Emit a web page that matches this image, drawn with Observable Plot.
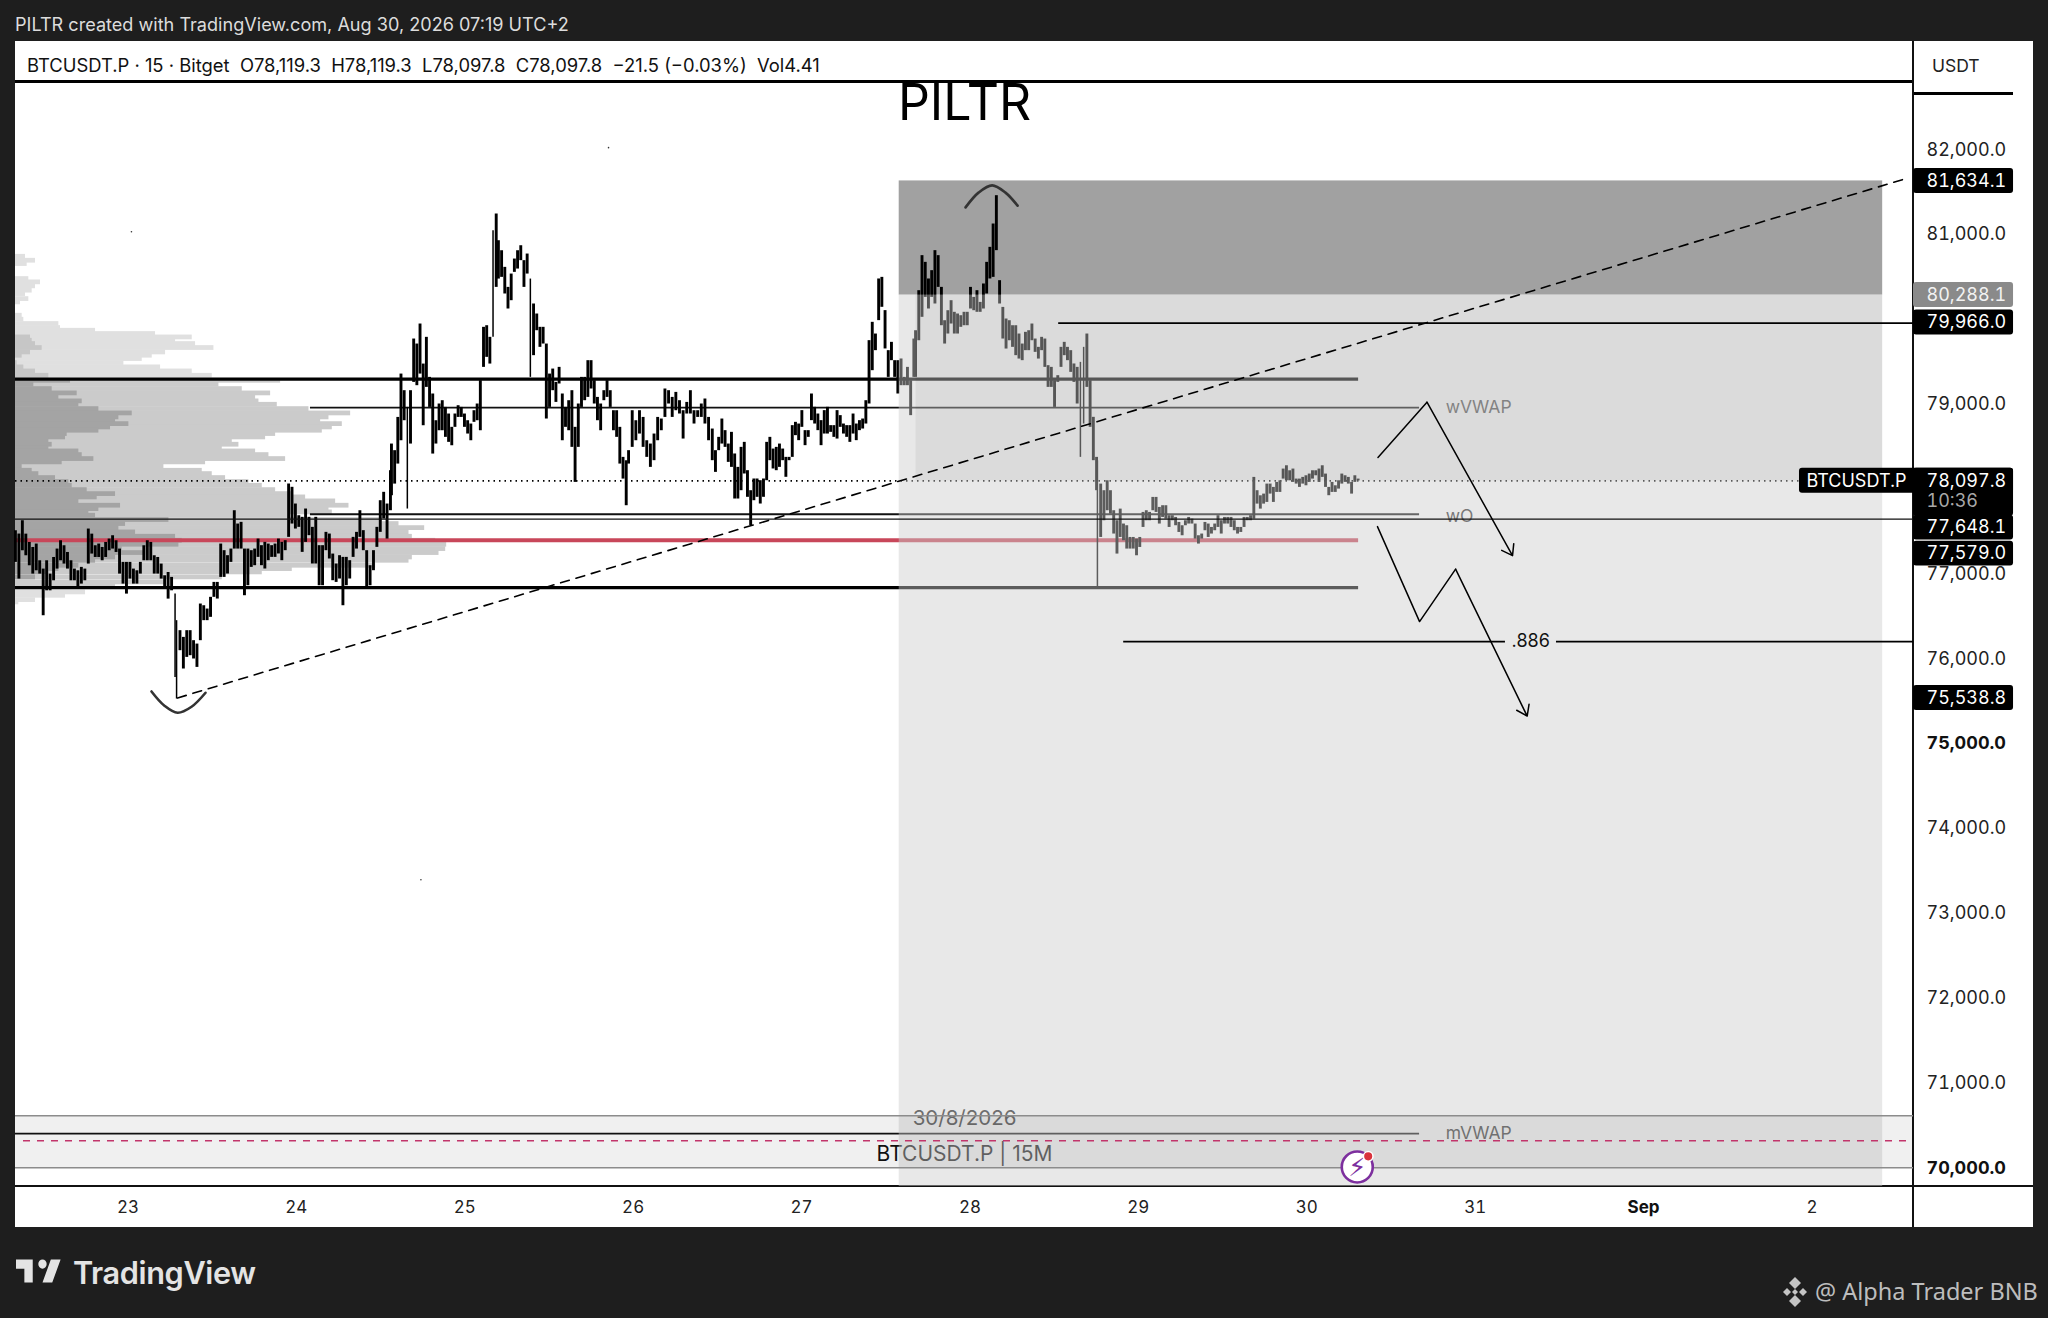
<!DOCTYPE html>
<html><head><meta charset="utf-8">
<script src="https://cdn.jsdelivr.net/npm/d3@7"></script>
<script src="https://cdn.jsdelivr.net/npm/@observablehq/plot@0.6"></script>
<style>
html,body{margin:0;padding:0;background:#1e1e1e;width:2048px;height:1318px;overflow:hidden;font-family:Inter,Roboto,sans-serif}
.abs{position:absolute;white-space:pre}
#chart{position:absolute;left:0;top:0}
#chart svg{display:block;overflow:visible;max-width:none}
</style></head><body>
<div class="abs" style="left:15px;top:41px;width:2018px;height:1186px;background:#fff"></div>
<div class="abs" style="left:15px;top:80px;width:1898px;height:3px;background:#000"></div>
<div class="abs" style="left:1913px;top:92px;width:100px;height:2.5px;background:#000"></div>
<div class="abs" style="left:15px;top:1185px;width:2018px;height:2px;background:#111"></div>
<div class="abs" style="left:1912px;top:41px;width:1.5px;height:1186px;background:#111"></div>
<div class="abs" style="left:15px;top:13px;color:#dcdcdc;font-size:18.1px;line-height:22px">PILTR created with TradingView.com, Aug 30, 2026 07:19 UTC+2</div>
<div class="abs" style="left:27px;top:54px;color:#111;font-size:18.4px;line-height:22px">BTCUSDT.P · 15 · Bitget  O78,119.3  H78,119.3  L78,097.8  C78,097.8  −21.5 (−0.03%)  Vol4.41</div>
<div class="abs" style="left:1932px;top:55px;color:#222;font-size:17.5px;line-height:22px">USDT</div>
<svg class="abs" style="left:16px;top:1258px" width="46" height="26" viewBox="2 5 33 17" preserveAspectRatio="none"><path fill="#e4e4e4" d="M14 6H2v6h6v9h6V6Zm14 15h-7l6-15h7l-6 15Zm-7-9a3 3 0 1 0 0-6 3 3 0 0 0 0 6Z"/></svg>
<div class="abs" style="left:73px;top:1255px;color:#e4e4e4;font-size:30.7px;font-weight:600;line-height:36px;letter-spacing:-.4px">TradingView</div>
<svg class="abs" style="left:1781px;top:1277px" width="28" height="30" viewBox="0 0 28 30"><g fill="#c4c4c4"><path d="M14 0l6 6-6 6-6-6z"/><path d="M14 18l6 6-6 6-6-6z"/><path d="M14 12l3 3-3 3-3-3z"/><path d="M6 11l4 4-4 4-4-4z"/><path d="M22 11l4 4-4 4-4-4z"/></g></svg>
<div class="abs" style="left:1815px;top:1276px;color:#bdbdbd;font-size:23.5px;line-height:30px;font-family:'Noto Sans',sans-serif">@ Alpha Trader BNB</div>
<div id="chart"></div>
<script>
// Candle highs and lows (USDT), grouped by stretch of the chart
const highsA=[77510,77471,77628,77470,77372,77313,77353,77156,77058,77156,76999,77195,77294,77392,77333,77254,77156,77058,77038,77078,77058,77530,77470,77333,77353,77313,77372,77412,77451,77392,77294,77137,77137,77137,77058,77038,77137,77333,77392,77372,77215,77195,77117,76979,77018,76960,76764];
const lowsA=[77137,76940,77274,77215,77097,76999,77038,76999,76508,76802,76802,76920,77058,77156,77117,77058,76920,76920,76842,76881,76920,77117,77235,77195,77195,77156,77195,77274,77294,77254,76999,76881,76763,76940,76881,76881,76999,77156,77156,77156,76999,76999,76940,76842,76704,76802,75781];
const highsB=[76450,76332,76253,76332,76332,76214,76174,76646,76626,76587,76725,76901,76901,77353,77275,77216,77294,77746,77589,77609,77294,77294,77275,77294,77412,77334,77373,77353,77334,77353,77412,77373,77393,78061,78022,77825,77687,77668,77766,77668,77550,77668,77334,77334,77491,77471,77235,77118,77216,77196,77196,77157,77432,77491,77746,77511,77275,77098,77275,77550,77864,77963,77825,78218];
const lowsB=[75526,76096,75880,76017,76037,75998,75899,76214,76450,76450,76489,76725,76705,76960,76960,77000,77137,77294,77294,77294,76744,76862,77078,77098,77196,77098,77059,77157,77196,77196,77236,77157,77275,77432,77589,77530,77550,77255,77373,77452,77118,77118,76862,76862,77275,77177,76921,76901,76941,76626,76862,76941,77196,77294,77432,77275,76823,76862,77039,77314,77491,77648,77412,77746];
const highsC=[78532,78454,78846,79357,79161,78964,79161,79770,79711,79947,79475,79790,79318,79122,78807,79004,79043,78964,78886,78729,78886,78984,78964,78886,78807,78768,78925,79004,79279,79908,79927,79790,81047,81244];
const lowsC=[77923,78060,78296,78571,78807,77766,78532,79259,79220,79357,78748,79200,78964,78414,78532,78689,78689,78611,78552,78512,78729,78846,78846,78729,78650,78571,78788,78807,78689,79436,79554,79475,79790,80379];
const highsG=[80929,80811,80615,80379,80536,80713,80811,80870,80694,80772,80477,80183,80065,79908,79908,79711,79357,79416,79259,79436,79122,78964,79043,79161,78729,79004,79318,79318,79515,79515,79279,79082,79004,79161,79279,79161,78925,78925,78729,78375,78335];
const lowsG=[80477,80497,80301,80124,80222,80556,80595,80694,80379,80536,79318,79574,79868,79672,79711,78827,78964,79161,79023,79240,78571,78729,78689,78493,78080,78493,78964,79043,79082,79181,79004,78807,78689,79043,79082,78964,78689,78611,78296,78119,77805];
const highsH=[78454,78925,78807,78925,78846,78571,78532,78650,78846,78827,79181,79161,79082,79141,79043,78925,79023,79161,78925,78925,79004,79063,78846];
const lowsH=[78296,78493,78571,78650,78493,78375,78257,78336,78571,78689,78846,79004,78846,78925,78886,78591,78886,78886,78768,78846,78846,78768,78571];
const highsD=[78709,78454,78611,78827,78690,78532,78670,78415,78257,78493,78552,78218,77982,78120,78120,78100,78120,78552,78611,78473,78493,78532,78473,78375,78375,78749,78788,78768,78926,78690,78690,79122,78965,78886,78808,78926,78965,78749,78749,78926,78867,78768,78749,78749,78886,78768,78808,78827,79043,79751,79967,79829,80478,80497,80105,79633,79731,79515,79515,79535,79318,79436,79279,79770];
const lowsD=[78336,78198,78454,78532,78493,78316,78257,77884,77884,77982,78179,77904,77570,77864,77904,77825,77904,78100,78336,78238,78218,78257,78336,78140,78336,78375,78631,78572,78729,78513,78611,78808,78768,78690,78513,78650,78650,78670,78611,78591,78729,78650,78611,78552,78650,78572,78690,78709,78768,79004,79397,79633,79987,80144,79653,79318,79515,79318,79122,79220,79220,79220,78867,79318];
const highsE=[79868,80340,80753,80674,80478,80576,80812,80753,80379,79986,80104,80222,80085,80065,80045,80085,80085,80379,80261,80340,80202,80419,80674,80851,81126,81460,80458,80143,80006,79986,79927,79927,79829,79711,79849,79868,79947,79770,79672,79790,79770,79456,79436,79279,79338,79672,79731,79672,79633,79476,79436,79495,79672,79829,79279,78847,78375];
const lowsE=[79318,79750,80026,80261,80124,80261,80183,80379,79927,79711,79829,79947,79829,79829,79908,79927,79927,80124,80104,80085,80085,80124,80301,80478,80497,80812,80183,79770,79652,79750,79672,79574,79534,79515,79633,79633,79750,79613,79534,79633,79436,79200,79200,78964,79259,79436,79574,79515,79377,79259,79004,78375,78768,79200,78729,78336,77982];
const highsF=[78335,78060,77982,78099,77982,77746,77628,77765,77589,77569,77431,77431,77412,77431,77726,77746,77726,77903,77903,77785,77805,77805,77687,77687,77667,77608,77569,77628,77667,77647,77589,77451,77471,77608,77589,77549,77589,77687,77628,77667,77667,77667,77628,77549,77549,77667,77667,77687,78139,77982,77922,77942,78060,78060,78021,78080,78099,78237,78276,78217,78237,78119,78119,78139,78158,78178,78217,78217,78237,78276,78178,78021,78080,78040,78099,78178,78158,78139,78080,78158,78119];
const lowsF=[76840,77431,77628,77746,77706,77471,77235,77431,77392,77294,77294,77294,77215,77313,77549,77628,77628,77746,77726,77589,77667,77647,77549,77628,77569,77490,77451,77569,77589,77589,77412,77353,77412,77510,77431,77471,77510,77549,77471,77589,77589,77549,77510,77471,77490,77549,77628,77628,77647,77824,77765,77824,77844,77942,77844,77962,77962,78119,78099,78099,78080,78060,78021,78060,78040,78080,78119,78158,78080,78139,78021,77923,77962,77962,78001,78060,78080,78060,77942,78080,78097];
const stretchDays=[[22.332,23.28],[23.289,24.559],[24.565,25.187],[25.2,25.959],[25.973,26.448],[26.47,27.667],[27.677,28.752],[28.757,30.305]];
const stretchHighs=[highsA,highsB,highsC,highsG,highsH,highsD,highsE,highsF];
const stretchLows=[lowsA,lowsB,lowsC,lowsG,lowsH,lowsD,lowsE,lowsF];

// Volume profile rows: price, total volume, up volume (arbitrary units)
const profilePrice=[80740,80693,80654,80477,80438,80391,80340,80300,80241,80202,80045,79998,79947,79900,79868,79829,79789,79750,79711,79664,79612,79573,79534,79487,79436,79388,79337,79278,79231,79180,79129,79082,79035,78995,78944,78893,78846,78807,78767,78728,78689,78650,78610,78571,78524,78485,78445,78402,78355,78316,78264,78217,78178,78131,78084,78040,77989,77942,77903,77856,77805,77765,77726,77687,77636,77589,77541,77490,77439,77392,77345,77294,77247,77195,77156,77097,77058,77019,76960,76901,76861,76783,76743,76692,76665];
const profileTotal=[30,60,35,40,75,60,50,30,40,15,20,25,130,135,240,420,530,480,540,595,450,410,380,325,435,530,590,795,610,680,765,720,730,785,880,1005,940,915,980,950,920,780,750,650,670,620,720,760,810,570,445,560,590,630,700,740,780,830,870,960,1000,940,950,820,1100,1150,1227,1180,1190,1260,1293,1290,1270,1190,1180,1080,830,740,620,450,300,210,150,60,10];
const profileUp=[0,0,0,0,0,0,0,0,0,0,0,0,0,0,0,0,45,50,60,80,45,20,0,5,25,60,100,165,55,110,185,130,200,190,250,350,310,300,340,285,250,155,150,100,110,100,190,200,235,140,20,50,70,120,160,170,215,300,245,190,315,250,220,240,460,330,310,360,480,500,490,320,390,300,240,190,130,100,60,0,0,0,0,0,0];
const valueAreaHigh=79297, valueAreaLow=76840;

// Levels: day of the month, price
const levelsUnder=[
 {d1:22.3325,d2:30.308,p:79297,w:3.2,c:"#000"},
 {d1:24.084,d2:30.67,p:78962,w:1.6,c:"#111"},
 {d1:24.084,d2:30.67,p:77704,w:1.9,c:"#111"},
 {d1:22.3325,d2:30.308,p:77399,w:4,c:"#c8475a"},
 {d1:22.3325,d2:30.308,p:76840,w:3.2,c:"#000"},
 {d1:22.3325,d2:30.67,p:70404,w:1.8,c:"#111"}
];
const levelsOver=[
 {d1:28.527,d2:33.603,p:79958,w:1.7,c:"#000"},
 {d1:22.3325,d2:33.603,p:77648.1,w:1.3,c:"#111"},
 {d1:28.913,d2:31.18,p:76203,w:1.6,c:"#000"},
 {d1:31.483,d2:33.603,p:76203,w:1.6,c:"#000"}
];
const trendDays=[23.295,33.556], trendPrices=[75538.8,81660];
const smileDays=[23.14,23.217,23.295,23.378,23.461], smilePrices=[75615,75447,75364,75435,75600];
const frownDays=[27.974,28.051,28.132,28.211,28.283], frownPrices=[81322,81496,81582,81496,81342];
const pathOneDays=[30.423,30.714], pathOnePrices=[78373,79025], pathOneTip=[31.222,77217];
const pathTwoDays=[30.42,30.67,30.884], pathTwoPrices=[77559,76439,77057], pathTwoTip=[31.309,75325];
const specks=[[23.021,81035],[25.854,82026],[24.74,73396]];

const centredNotes=[
 {d:27.968,p:82545,t:"PILTR",s:50,c:"#000"},
 {d:27.968,p:70585,t:"30/8/2026",s:20.5,c:"#222"},
 {d:27.968,p:70165,t:"BTCUSDT.P | 15M",s:21,c:"#111"}
];
const sideNotes=[
 {d:30.825,p:78962,t:"wVWAP",s:17.5,c:"#555"},
 {d:30.825,p:77680,t:"wO",s:17.5,c:"#333"},
 {d:30.825,p:70400,t:"mVWAP",s:17.5,c:"#333"}
];

const dayTicks=[23,24,25,26,27,28,29,30,31,33];
const dayTickText=["23","24","25","26","27","28","29","30","31","2"];
const monthTicks=[32];
const priceTicks=[82000,81000,79000,77000,76000,74000,73000,72000,71000];
const priceTicksBold=[75000,70000];
const tagText=["81,634.1","79,966.0","77,648.1","77,579.0","75,538.8"];
const tagPlace=[81634.1,79966,77547,77240,75538.8];

const date=d=>new Date(Date.UTC(2026,7,1)+(d-1)*864e5);
const candles=stretchDays.flatMap(([a,b],k)=>stretchHighs[k].map((h,i,arr)=>({t:date(a+(b-a)*i/(arr.length-1)),h,l:stretchLows[k][i]})));
const profile=profilePrice.map((p,i)=>({p,v:profileTotal[i],u:profileUp[i]}));
const startDay=22.3325, endDay=33.603, tagEnd=34.197;
const toX=v=>date(startDay+v/505);
const inVA=p=>p<=valueAreaHigh&&p>=valueAreaLow;
const lin=(ds,ps)=>ds.map((d,i)=>({t:date(d),p:ps[i]}));
const zip=(ds,ps,tip)=>({t:date(ds[ds.length-1]),p:ps[ps.length-1],t2:date(tip[0]),p2:tip[1]});
const font="Inter, Roboto, sans-serif";
const fmt=d3.format(",.1f");
const tag={dx:13,textAnchor:"start",fontSize:18,fontVariant:"tabular-nums",fontFamily:font};

const plot=Plot.plot({
 width:2048,height:1318,
 marginLeft:15,marginRight:135,marginTop:81,marginBottom:132,
 style:{background:"transparent",fontFamily:font,overflow:"visible"},
 x:{type:"utc",domain:[date(startDay),date(endDay)]},
 y:{type:"linear",domain:[69779.5,82806]},
 marks:[
  // volume profile
  Plot.rect(profile,{x1:date(startDay),x2:d=>toX(d.v),y1:d=>d.p-28,y2:d=>d.p+28,fill:d=>inVA(d.p)?"#cbcbcb":"#e0e0e0"}),
  Plot.rect(profile.filter(d=>d.u>0),{x1:date(startDay),x2:d=>toX(d.u),y1:d=>d.p-28,y2:d=>d.p+28,fill:d=>inVA(d.p)?"#a4a4a4":"#c6c6c6"}),
  // last-price line
  Plot.ruleY([78097.8],{x1:date(startDay),x2:date(32.93),stroke:"#000",strokeWidth:1.6,strokeDasharray:"1.5 4"}),
  // levels drawn under the shaded zones
  Plot.ruleY(levelsUnder,{y:"p",x1:d=>date(d.d1),x2:d=>date(d.d2),stroke:"c",strokeWidth:"w"}),
  // candles
  Plot.ruleX(candles,{x:"t",y1:"l",y2:"h",stroke:"#000",strokeWidth:d=>d.h-d.l>900?1.5:2.9}),
  Plot.dot(specks,{x:d=>date(d[0]),y:d=>d[1],r:.8,fill:"#333"}),
  Plot.text(centredNotes,{x:d=>date(d.d),y:"p",text:"t",fontSize:"s",fill:"c",textAnchor:"middle",fontFamily:font}),
  Plot.text(sideNotes,{x:d=>date(d.d),y:"p",text:"t",fontSize:"s",fill:"c",textAnchor:"start",fontFamily:font}),
  // shaded zones
  Plot.rect([0],{x1:date(27.58),x2:date(33.42),y1:80288.1,y2:81634.1,fill:"#000",fillOpacity:.37}),
  Plot.rect([0],{x1:date(27.58),x2:date(33.42),y1:69779.5,y2:80288.1,fill:"#ccc",fillOpacity:.45}),
  Plot.rect([0],{x1:date(27.68),x2:date(33.42),y1:78097.8,y2:80288.1,fill:"#000",fillOpacity:.055}),
  // monthly band
  Plot.rect([0],{x1:date(startDay),x2:date(endDay),y1:70000,y2:70613,fill:"#000",fillOpacity:.06}),
  Plot.ruleY([70613,70000],{x1:date(startDay),x2:date(endDay),stroke:"#8c8c8c",strokeWidth:1.5}),
  Plot.ruleY([70318],{x1:date(22.38),x2:date(endDay),stroke:"#c2356b",strokeWidth:1.6,strokeDasharray:"7 7"}),
  // levels on top
  Plot.ruleY(levelsOver,{y:"p",x1:d=>date(d.d1),x2:d=>date(d.d2),stroke:"c",strokeWidth:"w"}),
  Plot.text([".886"],{x:date(31.33),y:76203,text:d=>d,fontSize:18,fill:"#111",fontFamily:font}),
  // trend line, swing marks, projected paths
  Plot.line(lin(trendDays,trendPrices),{x:"t",y:"p",stroke:"#000",strokeWidth:1.6,strokeDasharray:"9 7"}),
  Plot.line(lin(smileDays,smilePrices),{x:"t",y:"p",stroke:"#333",strokeWidth:2.6,curve:"catmull-rom"}),
  Plot.line(lin(frownDays,frownPrices),{x:"t",y:"p",stroke:"#333",strokeWidth:2.6,curve:"catmull-rom"}),
  Plot.line(lin(pathOneDays,pathOnePrices),{x:"t",y:"p",stroke:"#000",strokeWidth:1.5}),
  Plot.line(lin(pathTwoDays,pathTwoPrices),{x:"t",y:"p",stroke:"#000",strokeWidth:1.5}),
  Plot.arrow([zip(pathOneDays,pathOnePrices,pathOneTip),zip(pathTwoDays,pathTwoPrices,pathTwoTip)],{x1:"t",y1:"p",x2:"t2",y2:"p2",stroke:"#000",strokeWidth:1.5,headLength:12,headAngle:70,inset:0}),
  // alert icon
  Plot.dot([0],{x:date(30.3),y:70010,r:15.5,fill:"#fff",stroke:"#7d2f9e",strokeWidth:2.6}),
  Plot.text(["⚡"],{x:date(30.3),y:70005,text:d=>d,fontSize:26,fill:"#7d2f9e",fontFamily:"DejaVu Sans"}),
  Plot.dot([0],{x:date(30.365),y:70135,r:4.8,fill:"#d9323c",stroke:"#fff",strokeWidth:1.5}),
  // axes
  Plot.axisY({anchor:"right",ticks:priceTicks,tickSize:0,tickPadding:13,tickFormat:fmt,fontSize:18,fill:"#222",label:null,fontFamily:font}),
  Plot.axisY({anchor:"right",ticks:priceTicksBold,tickSize:0,tickPadding:13,tickFormat:fmt,fontSize:18,fontWeight:700,fill:"#111",label:null,fontFamily:font}),
  Plot.axisX({ticks:dayTicks.map(date),tickSize:0,tickPadding:14,tickFormat:d=>dayTickText[dayTicks.findIndex(v=>+date(v)===+d)],fontSize:17,fill:"#222",label:null,fontFamily:font}),
  Plot.axisX({ticks:monthTicks.map(date),tickSize:0,tickPadding:14,tickFormat:()=>"Sep",fontSize:17,fontWeight:700,fill:"#111",label:null,fontFamily:font}),
  // price tags
  Plot.rect(tagPlace,{x1:date(endDay),x2:date(tagEnd),y1:d=>d-147,y2:d=>d+147,fill:"#000",rx:3}),
  Plot.rect([80288.1],{x1:date(endDay),x2:date(tagEnd),y1:d=>d-147,y2:d=>d+147,fill:"#8a8a8a",rx:3}),
  Plot.rect([78100],{x1:date(32.926),x2:date(tagEnd),y1:d=>d-147,y2:d=>d+147,fill:"#000",rx:3}),
  Plot.rect([78097.8],{x1:date(endDay),x2:date(tagEnd),y1:77680,y2:78247,fill:"#000",rx:3}),
  Plot.text(tagPlace,{x:date(endDay),y:d=>d,text:(d,i)=>tagText[i],...tag,fill:"#fff"}),
  Plot.text(["80,288.1"],{x:date(endDay),y:80288.1,text:d=>d,...tag,fill:"#f2f2f2"}),
  Plot.text(["78,097.8"],{x:date(endDay),y:78097.8,text:d=>d,...tag,fill:"#fff"}),
  Plot.text(["10:36"],{x:date(endDay),y:77854,text:d=>d,...tag,fill:"#a8a8a8"}),
  Plot.text(["BTCUSDT.P"],{x:date(32.926),y:78097.8,text:d=>d,dx:7,textAnchor:"start",fontSize:18,fill:"#fff",fontFamily:font})
 ]
});
document.getElementById("chart").appendChild(plot);
</script>
</body></html>
